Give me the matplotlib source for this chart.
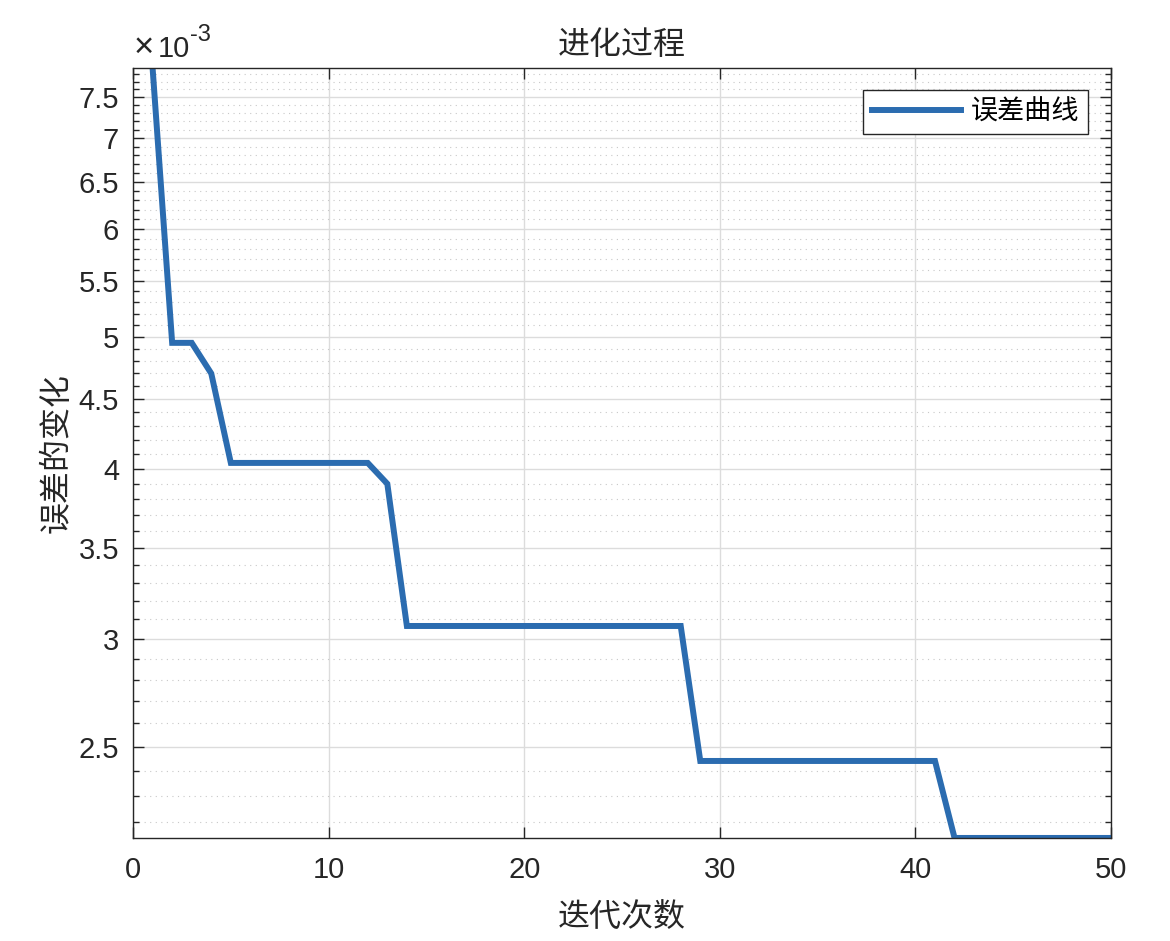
import numpy as np, matplotlib
matplotlib.use("Agg"); import matplotlib.pyplot as plt
from matplotlib.ticker import FixedLocator, FixedFormatter, NullFormatter
from matplotlib.transforms import offset_copy

plt.rcParams["font.family"] = ["Liberation Sans", "Noto Sans CJK SC", "DejaVu Sans"]

# error value per iteration (x1e-3)
iters = list(range(1, 51))
err = ([7.88, 4.95, 4.95, 4.70] + [4.04] * 8 + [3.90] + [3.066] * 15
       + [2.44] * 13 + [2.142] * 9)
err = [v * 1e-3 for v in err]

yticks = [2.5, 3, 3.5, 4, 4.5, 5, 5.5, 6, 6.5, 7, 7.5]
yminor = [v / 10 for v in range(22, 79) if v % 5 != 0]
xticks = [0, 10, 20, 30, 40, 50]

ink = "#262626"
cjk = "Noto Sans CJK SC"
fig = plt.figure(figsize=(11.7, 9.41), dpi=100)
ax = fig.add_axes([0.1137, 0.1095, 0.8359, 0.8182])
ax.semilogy(iters, err, color="#2b6cb0", lw=4.3, label="误差曲线", solid_joinstyle="miter")
ax.set_xlim(0, 50)
ax.set_ylim(min(err), max(err))
ax.yaxis.set_major_locator(FixedLocator([v * 1e-3 for v in yticks]))
ax.yaxis.set_major_formatter(FixedFormatter([f"{v:g}" for v in yticks]))
ax.yaxis.set_minor_locator(FixedLocator([v * 1e-3 for v in yminor]))
ax.yaxis.set_minor_formatter(NullFormatter())
ax.set_xticks(xticks)
ax.tick_params(which="both", direction="in", top=True, right=True, colors=ink,
               labelsize=21, width=1)
ax.tick_params(which="major", length=8)
ax.tick_params(which="minor", length=4)
ax.tick_params(axis="x", pad=13)
ax.tick_params(axis="y", pad=10)
for s in ax.spines.values():
    s.set_color(ink); s.set_linewidth(1)
ax.grid(which="major", color="#dcdcdc", lw=1)
ax.grid(which="minor", axis="y", color="#c8c8c8", lw=0.8, ls=(0, (1, 4)))
ax.set_axisbelow(True)

# exponent label in the MATLAB style
t0 = ax.text(0.0, 1.0, "×", transform=offset_copy(ax.transAxes, fig, x=1, y=11, units="dots"),
             fontsize=25, color=ink, va="baseline", ha="left")
fig.canvas.draw()
b0 = t0.get_window_extent()
t1 = ax.text((b0.x1 + 3 - ax.bbox.x0) / ax.bbox.width, 1.0, "10", fontsize=21, color=ink,
             va="baseline", ha="left",
             transform=offset_copy(ax.transAxes, fig, x=0, y=11, units="dots"))
fig.canvas.draw()
bb = t1.get_window_extent()
fig.text(bb.x1 / fig.bbox.width, (bb.y0 + 17) / fig.bbox.height, "-3",
         fontsize=17, color=ink, va="bottom", ha="left")

ax.set_title("进化过程", fontsize=23, color=ink, family=cjk, pad=10)
ax.set_xlabel("迭代次数", fontsize=23, color=ink, family=cjk, labelpad=12)
ax.set_ylabel("误差的变化", fontsize=23, color=ink, family=cjk, labelpad=4)
leg = ax.legend(loc="upper right", bbox_to_anchor=(0.9765, 0.9714), borderaxespad=0,
                fancybox=False, framealpha=1, edgecolor=ink, handlelength=3.3,
                handletextpad=0.35, borderpad=0.32,
                prop={"family": cjk, "size": 19.5})
leg.get_frame().set_linewidth(1)
fig.savefig("out.png", dpi=100)
